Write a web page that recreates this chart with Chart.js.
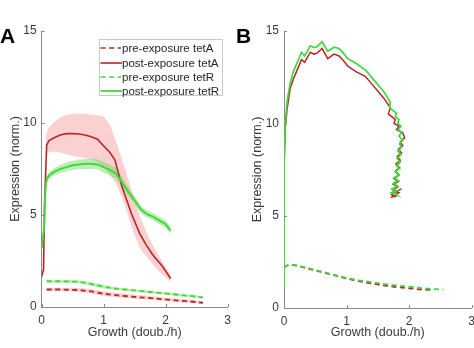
<!DOCTYPE html>
<html><head><meta charset="utf-8">
<script src="https://cdn.jsdelivr.net/npm/chart.js@4/dist/chart.umd.min.js"></script>
<style>
html,body{margin:0;padding:0;background:#fff;overflow:hidden;width:474px;height:348px;position:relative}
canvas{position:absolute;top:0}
#cA{left:0}
#cB{left:237px}
.panel{position:absolute;font-family:'Liberation Sans',Arial,sans-serif;font-weight:bold;font-size:21px;line-height:21px;color:#000}
#legend{position:absolute;left:99px;top:39px;width:122px;height:55px;border:1px solid #c8c8c8;background:#fff;font-family:'Liberation Sans',Arial,sans-serif;font-size:11.5px;color:#262626}
.row{position:absolute;left:0;height:14px;width:100%}
.row svg{position:absolute;left:0;top:0}
.row span{position:absolute;left:22px;top:0;line-height:14px;white-space:nowrap}
</style>
</head><body>
<canvas id="cA" width="237" height="348"></canvas>
<canvas id="cB" width="260" height="348"></canvas>
<div class="panel" style="left:0;top:25px">A</div>
<div class="panel" style="left:236px;top:25px">B</div>
<div id="legend">
 <div class="row" style="top:1px"><svg width="22" height="14"><line x1="0.5" y1="7" x2="21" y2="7" stroke="#b8262b" stroke-width="1.6" stroke-dasharray="5 3.5"/></svg><span>pre-exposure tetA</span></div>
 <div class="row" style="top:15.5px"><svg width="22" height="14"><line x1="0.5" y1="7" x2="22" y2="7" stroke="#b8262b" stroke-width="1.6"/></svg><span>post-exposure tetA</span></div>
 <div class="row" style="top:29.5px"><svg width="22" height="14"><line x1="0.5" y1="7" x2="21" y2="7" stroke="#3fd93f" stroke-width="1.6" stroke-dasharray="5 3.5"/></svg><span>pre-exposure tetR</span></div>
 <div class="row" style="top:44px"><svg width="22" height="14"><line x1="0.5" y1="7" x2="22" y2="7" stroke="#3fd93f" stroke-width="1.8"/></svg><span>post-exposure tetR</span></div>
</div>
<script>
// ---------- Panel A data ----------
const aPostTetAX = [0, 0.03, 0.045, 0.08, 0.12, 0.2, 0.3, 0.4, 0.5, 0.6, 0.7, 0.8, 0.9, 1.0, 1.1, 1.18, 1.3, 1.45, 1.58, 1.68, 1.8, 1.95, 2.08];
const aPostTetAY = [1.65, 2.05, 5.5, 8.8, 9.05, 9.2, 9.35, 9.42, 9.42, 9.4, 9.35, 9.25, 9.12, 8.75, 8.4, 8.0, 6.5, 5.05, 4.0, 3.4, 2.8, 2.2, 1.55];
const aPostTetABandX = [0.07, 0.12, 0.2, 0.3, 0.4, 0.5, 0.6, 0.7, 0.8, 0.9, 1.0, 1.1, 1.2, 1.3, 1.4, 1.5, 1.6, 1.7, 1.8, 1.9, 2.0, 2.08];
const aPostTetAUpper = [9.4, 9.75, 10.05, 10.3, 10.45, 10.5, 10.52, 10.5, 10.45, 10.42, 10.35, 9.9, 9.0, 8.0, 6.9, 5.8, 4.8, 4.0, 3.3, 2.7, 2.15, 1.75];
const aPostTetALower = [8.3, 8.42, 8.45, 8.4, 8.3, 8.2, 8.15, 8.1, 8.0, 7.9, 7.6, 7.2, 6.7, 5.9, 4.9, 3.9, 3.1, 2.7, 2.3, 1.9, 1.6, 1.35];

const aPostTetRX = [0, 0.02, 0.04, 0.06, 0.08, 0.12, 0.2, 0.3, 0.4, 0.5, 0.6, 0.7, 0.8, 0.9, 1.0, 1.1, 1.2, 1.3, 1.4, 1.5, 1.6, 1.7, 1.8, 1.9, 2.0, 2.08];
const aPostTetRY = [3.2, 3.8, 4.3, 6.4, 6.95, 7.15, 7.35, 7.5, 7.6, 7.7, 7.75, 7.78, 7.78, 7.75, 7.6, 7.45, 7.25, 6.75, 6.25, 5.8, 5.3, 5.05, 4.9, 4.7, 4.5, 4.15];
const aPostTetRUpper = [3.3, 3.95, 4.5, 6.6, 7.15, 7.35, 7.55, 7.72, 7.85, 7.95, 8.02, 8.05, 8.06, 8.02, 7.9, 7.75, 7.55, 7.05, 6.5, 6.02, 5.5, 5.25, 5.1, 4.9, 4.7, 4.35];
const aPostTetRLower = [3.1, 3.65, 4.1, 6.2, 6.75, 6.95, 7.15, 7.28, 7.36, 7.45, 7.48, 7.5, 7.5, 7.48, 7.3, 7.15, 6.95, 6.45, 6.0, 5.58, 5.1, 4.85, 4.7, 4.5, 4.3, 3.95];

const aPreX = [0.08, 0.3, 0.6, 0.8, 1.0, 1.2, 1.5, 1.8, 2.1, 2.4, 2.6];
const aPreTetAY = [0.95, 0.95, 0.92, 0.85, 0.72, 0.64, 0.55, 0.47, 0.38, 0.3, 0.23];
const aPreTetAUpper = [1.05, 1.05, 1.03, 0.98, 0.86, 0.77, 0.67, 0.58, 0.48, 0.39, 0.31];
const aPreTetALower = [0.86, 0.86, 0.82, 0.74, 0.6, 0.53, 0.45, 0.38, 0.29, 0.22, 0.16];
const aPreTetRY = [1.4, 1.4, 1.37, 1.25, 1.1, 1.0, 0.9, 0.8, 0.7, 0.6, 0.52];
const aPreTetRUpper = [1.48, 1.48, 1.45, 1.34, 1.19, 1.08, 0.97, 0.87, 0.77, 0.67, 0.59];
const aPreTetRLower = [1.32, 1.32, 1.29, 1.16, 1.01, 0.92, 0.83, 0.73, 0.63, 0.53, 0.45];

// ---------- Panel B data ----------
const bPostTetRX = [0, 0, 0.005, 0.02, 0.05, 0.1, 0.15, 0.2, 0.28, 0.33, 0.42, 0.48, 0.53, 0.61, 0.7, 0.8, 0.88, 0.95, 1.02, 1.15, 1.3, 1.4, 1.5, 1.6, 1.7,
  1.69, 1.74, 1.8, 1.78, 1.84, 1.82, 1.87, 1.83, 1.88, 1.84, 1.9, 1.85, 1.88, 1.82, 1.87, 1.81, 1.86, 1.8, 1.85, 1.78, 1.84, 1.76, 1.83, 1.75, 1.82, 1.73, 1.8, 1.72, 1.79, 1.73, 1.78];
const bPostTetRY = [1.1, 5, 8, 10, 11.2, 12.2, 12.8, 13.2, 13.85, 13.65, 14.2, 14.1, 14.15, 14.42, 13.9, 14.12, 14.05, 13.8, 13.5, 13.25, 12.9, 12.5, 12.1, 11.7, 11.15,
  10.85, 10.7, 10.55, 10.35, 10.2, 10.0, 9.85, 9.65, 9.5, 9.3, 9.1, 8.9, 8.7, 8.5, 8.3, 8.1, 7.9, 7.7, 7.55, 7.4, 7.2, 7.05, 6.9, 6.75, 6.6, 6.45, 6.35, 6.25, 6.15, 6.3, 6.2];
const bPostTetAX = [0, 0, 0.005, 0.02, 0.05, 0.1, 0.15, 0.2, 0.28, 0.33, 0.42, 0.48, 0.53, 0.61, 0.7, 0.8, 0.88, 0.95, 1.02, 1.15, 1.3, 1.4, 1.5, 1.6, 1.7,
  1.67, 1.73, 1.78, 1.76, 1.84, 1.8, 1.9, 1.93, 1.86, 1.9, 1.83, 1.88, 1.81, 1.86, 1.79, 1.85, 1.78, 1.84, 1.76, 1.83, 1.75, 1.82, 1.74, 1.8, 1.72, 1.78, 1.71, 1.76, 1.84, 1.79, 1.88];
const bPostTetAY = [1.1, 5, 7.8, 9.7, 10.8, 11.9, 12.4, 12.8, 13.45, 13.3, 13.85, 13.75, 13.8, 14.05, 13.5, 13.75, 13.65, 13.4, 13.1, 12.8, 12.55, 12.15, 11.75, 11.35, 10.85,
  10.5, 10.35, 10.2, 10.0, 9.85, 9.65, 9.5, 9.2, 9.0, 8.8, 8.6, 8.4, 8.2, 8.0, 7.8, 7.6, 7.4, 7.2, 7.0, 6.85, 6.7, 6.55, 6.4, 6.3, 6.15, 6.05, 6.0, 6.05, 6.25, 6.3, 6.45];
const bPreTetRX = [0, 0.05, 0.1, 0.2, 0.4, 0.6, 0.8, 1.0, 1.2, 1.4, 1.6, 1.8, 2.0, 2.2, 2.4, 2.55];
const bPreTetRY = [2.2, 2.3, 2.35, 2.32, 2.15, 1.97, 1.8, 1.63, 1.5, 1.4, 1.3, 1.22, 1.15, 1.08, 1.02, 1.0];
const bPreTetAX = [0, 0.05, 0.1, 0.2, 0.4, 0.6, 0.8, 1.0, 1.2, 1.4, 1.6, 1.8, 2.0, 2.2, 2.35];
const bPreTetAY = [2.2, 2.3, 2.35, 2.3, 2.12, 1.95, 1.78, 1.6, 1.45, 1.33, 1.22, 1.13, 1.07, 1.0, 0.98];

// ---------- shared axis settings ----------
const xTicks = [0, 1, 2, 3];
const yTicks = [0, 5, 10, 15];
const xTitle = 'Growth (doub./h)';
const yTitle = 'Expression (norm.)';

const RED = '#b8262b', GREEN = '#3fd93f';
const RED_BAND = 'rgba(240,120,120,0.35)', GREEN_BAND = 'rgba(90,215,70,0.4)';
const AXIS = '#8a8a8a', TXT = '#3a3a3a';
const FONT = "'Liberation Sans', Arial, sans-serif";

const pts = (xs, ys) => xs.map((x, i) => ({x, y: ys[i]}));
const line = (xs, ys, color, width, dashed, order) => ({
  data: pts(xs, ys), borderColor: color, borderWidth: width, borderDash: dashed ? [5, 3.5] : [],
  pointRadius: 0, fill: false, tension: 0, order
});
const band = (xs, ys, color, fillTarget, order) => ({
  data: pts(xs, ys), borderWidth: 0, borderColor: 'rgba(0,0,0,0)', backgroundColor: color,
  pointRadius: 0, fill: fillTarget, tension: 0, order
});

const inwardTicks = {
  id: 'inwardTicks',
  afterDatasetsDraw(chart) {
    const {ctx, chartArea, scales: {x, y}} = chart;
    ctx.save();
    ctx.strokeStyle = AXIS; ctx.lineWidth = 1;
    x.ticks.forEach(t => {
      const px = Math.round(x.getPixelForValue(t.value)) + 0.5;
      ctx.beginPath(); ctx.moveTo(px, chartArea.bottom); ctx.lineTo(px, chartArea.bottom - 3); ctx.stroke();
    });
    y.ticks.forEach(t => {
      const py = Math.round(y.getPixelForValue(t.value)) + 0.5;
      ctx.beginPath(); ctx.moveTo(chartArea.left, py); ctx.lineTo(chartArea.left + 3, py); ctx.stroke();
    });
    ctx.restore();
  }
};

function makeOptions(yAxisWidth, xAxisHeight, rightPad, yTitlePad) {
  return {
    responsive: false, animation: false, devicePixelRatio: 1,
    layout: {autoPadding: false, padding: {left: 0, right: rightPad, top: 31, bottom: 0}},
    plugins: {legend: {display: false}, tooltip: {enabled: false}},
    scales: {
      x: {
        type: 'linear', min: 0, max: 3,
        afterBuildTicks: s => { s.ticks = xTicks.map(v => ({value: v})); },
        afterFit: s => { s.height = xAxisHeight; },
        grid: {display: false, drawTicks: false},
        border: {display: true, color: AXIS, width: 1},
        ticks: {color: TXT, padding: 6, font: {family: FONT, size: 12}, maxRotation: 0},
        title: {display: true, text: xTitle, color: TXT, font: {family: FONT, size: 12.5}, padding: {top: 0, bottom: 8}}
      },
      y: {
        type: 'linear', min: 0, max: 15,
        afterBuildTicks: s => { s.ticks = yTicks.map(v => ({value: v})); },
        afterFit: s => { s.width = yAxisWidth; },
        grid: {display: false, drawTicks: false},
        border: {display: true, color: AXIS, width: 1},
        ticks: {color: TXT, padding: 5, font: {family: FONT, size: 12}},
        title: {display: true, text: yTitle, color: TXT, font: {family: FONT, size: 12.5}, padding: {top: yTitlePad, bottom: 0}}
      }
    }
  };
}

// Panel A: lines on top (low order), bands underneath
new Chart(document.getElementById('cA'), {
  type: 'line',
  data: {datasets: [
    line(aPostTetRX, aPostTetRY, GREEN, 2, false, 0),
    line(aPostTetAX, aPostTetAY, RED, 1.6, false, 1),
    line(aPreX, aPreTetRY, GREEN, 1.8, true, 2),
    line(aPreX, aPreTetAY, RED, 1.8, true, 3),
    band(aPostTetABandX, aPostTetAUpper, RED_BAND, false, 11),
    band(aPostTetABandX, aPostTetALower, RED_BAND, 4, 10),
    band(aPostTetRX, aPostTetRUpper, GREEN_BAND, false, 9),
    band(aPostTetRX, aPostTetRLower, GREEN_BAND, 6, 8),
    band(aPreX, aPreTetAUpper, RED_BAND, false, 7),
    band(aPreX, aPreTetALower, RED_BAND, 8, 6),
    band(aPreX, aPreTetRUpper, GREEN_BAND, false, 5),
    band(aPreX, aPreTetRLower, GREEN_BAND, 10, 4)
  ]},
  options: makeOptions(41.7, 41, 7.7, 7.8),
  plugins: [inwardTicks]
});

// Panel B
new Chart(document.getElementById('cB'), {
  type: 'line',
  data: {datasets: [
    line(bPostTetRX, bPostTetRY, GREEN, 1.7, false, 0),
    line(bPostTetAX, bPostTetAY, RED, 1.5, false, 1),
    line(bPreTetRX, bPreTetRY, GREEN, 1.8, true, 2),
    line(bPreTetAX, bPreTetAY, RED, 1.8, true, 3)
  ]},
  options: makeOptions(47, 40, 25.5, 13.5),
  plugins: [inwardTicks]
});
</script>
</body></html>
